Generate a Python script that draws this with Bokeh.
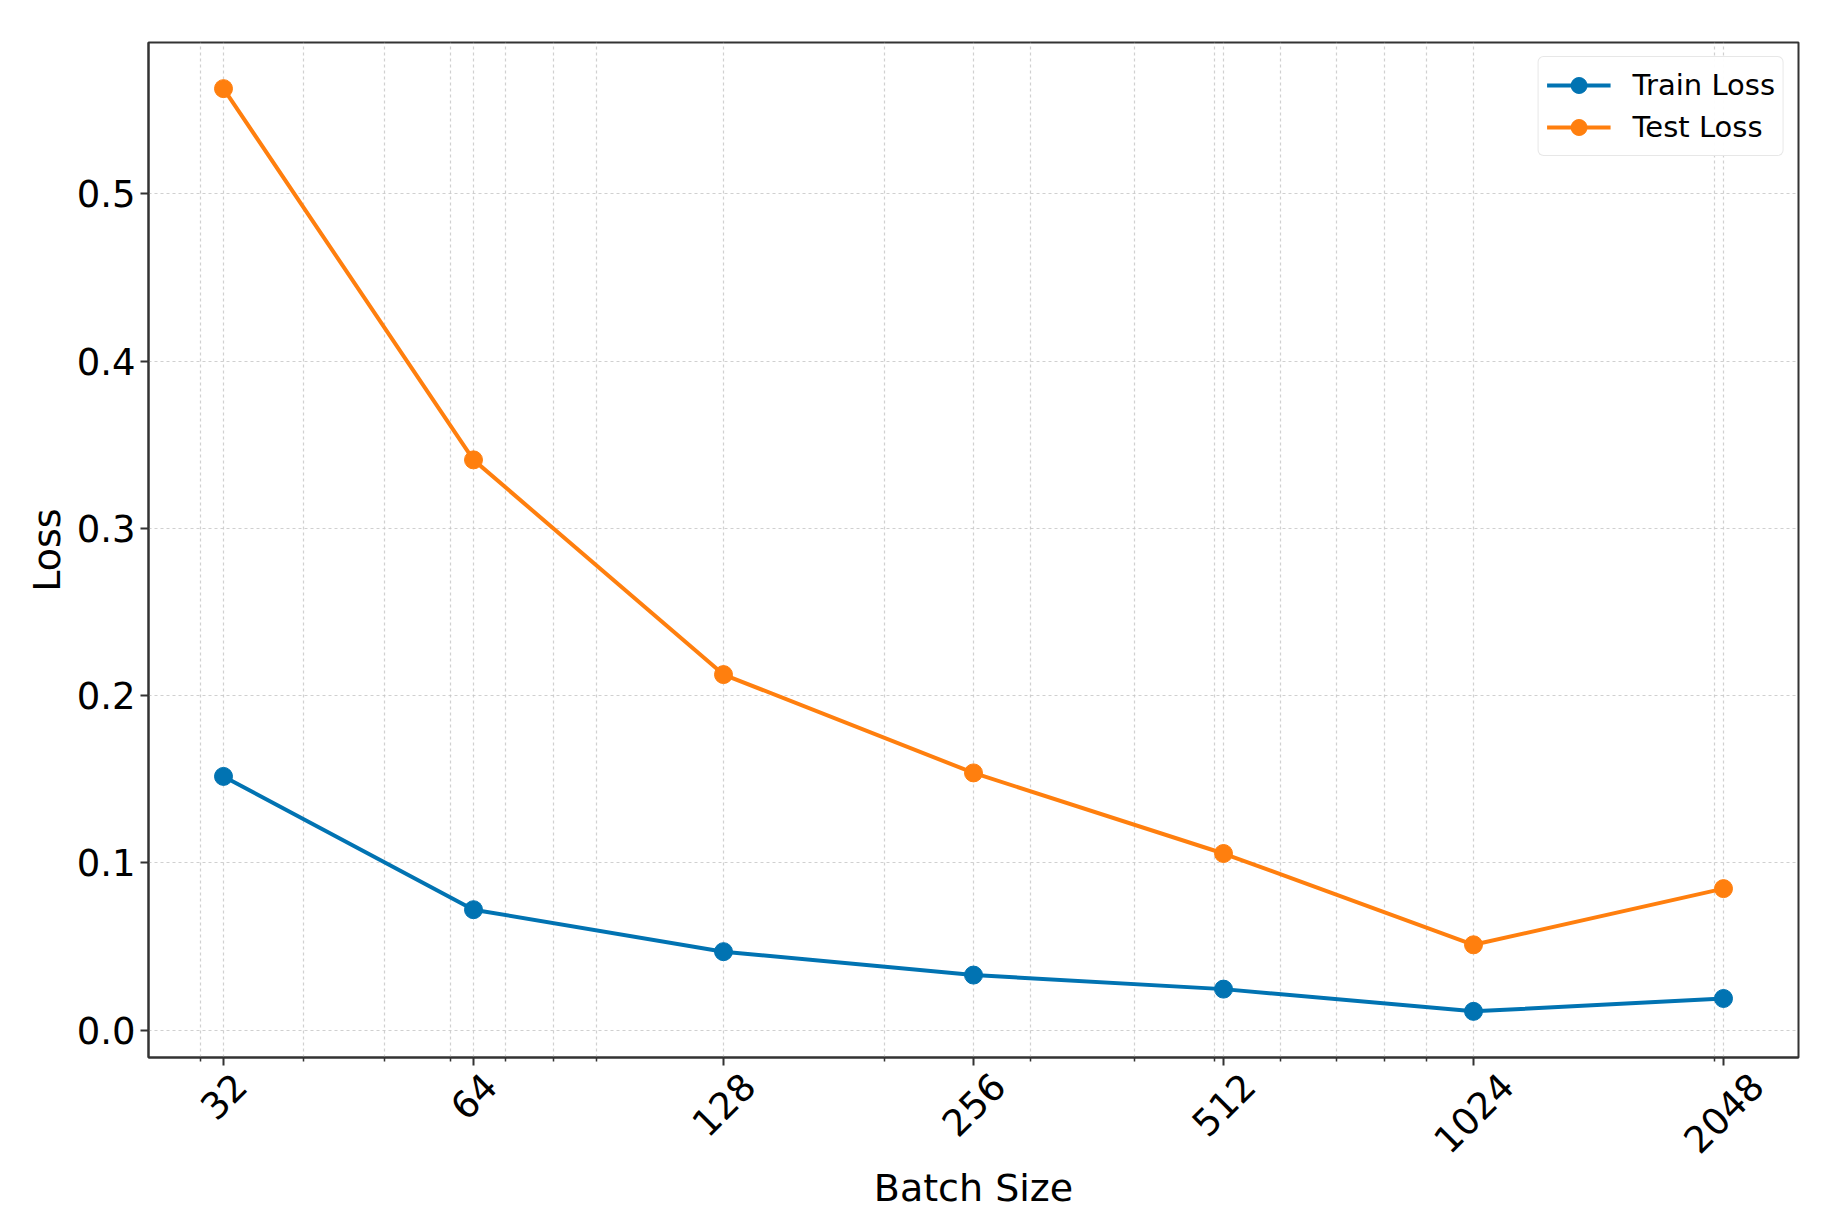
import math
from bokeh.plotting import figure
from bokeh.models import (FixedTicker, PrintfTickFormatter, Range1d, Legend, LegendItem, LogAxis)
from bokeh.embed import file_html
from bokeh.resources import INLINE

batch_sizes = [32, 64, 128, 256, 512, 1024, 2048]
batch_labels = ["32", "64", "128", "256", "512", "1024", "2048"]
train_loss = [0.1517, 0.0720, 0.0469, 0.0329, 0.0245, 0.0112, 0.0189]
test_loss = [0.5630, 0.3410, 0.2126, 0.1538, 0.1056, 0.0510, 0.0846]
x_minor = [30, 40, 50, 60, 70, 80, 90, 200, 300, 400, 500, 600, 700, 800, 900, 2000]
y_ticks = [0.0, 0.1, 0.2, 0.3, 0.4, 0.5]

FONT = "DejaVu Sans"
TICK_PX = 37
BLUE = "#0173b2"
ORANGE = "#ff7f0e"

W, H = 1815, 1215
BL, BT, BR, BB = 148, 42, 17, 158

lx = [math.log2(v) for v in batch_sizes]
pad_x = 0.05 * (max(lx) - min(lx))
ymin, ymax = min(train_loss + test_loss), max(train_loss + test_loss)
pad_y = 0.05 * (ymax - ymin)

p = figure(width=W, height=H, x_axis_type="log",
           x_range=Range1d(2 ** (min(lx) - pad_x), 2 ** (max(lx) + pad_x)),
           y_range=Range1d(ymin - pad_y, ymax + pad_y),
           output_backend="svg", toolbar_location=None,
           min_border_left=BL, min_border_top=BT, min_border_right=BR, min_border_bottom=BB)

# axis carrying the tick marks (labels drawn by the label axis below)
p.xaxis.ticker = FixedTicker(ticks=batch_sizes, minor_ticks=x_minor)
p.xaxis.major_label_overrides = {v: "" for v in batch_sizes}
p.yaxis.ticker = FixedTicker(ticks=y_ticks)
p.yaxis.formatter = PrintfTickFormatter(format="%.1f")

for ax in (p.xaxis[0], p.yaxis[0]):
    ax.major_label_text_font = FONT
    ax.major_label_text_font_size = f"{TICK_PX}px"
    ax.major_label_text_color = "black"
    ax.axis_label_text_font = FONT
    ax.axis_label_text_font_size = "38px"
    ax.axis_label_text_font_style = "normal"
    ax.axis_label_text_color = "black"
    ax.axis_line_color = "#333333"
    ax.axis_line_width = 2
    ax.major_tick_line_color = "#333333"
    ax.major_tick_line_width = 2
    ax.major_tick_out = 8
    ax.major_tick_in = 0
    ax.minor_tick_line_color = "#333333"
    ax.minor_tick_line_width = 1.5
    ax.minor_tick_out = 4
    ax.minor_tick_in = 0

p.yaxis.axis_label = "Loss"
p.yaxis.minor_tick_line_color = None
p.xaxis.major_label_text_font_size = "0px"
p.xaxis.major_label_standoff = 0

# label axis: rotated labels, shifted so each label is centred under its tick
px_per_oct = (W - BL - BR) / ((max(lx) - min(lx)) * 1.1)
shift = [0.354 * 0.636 * TICK_PX * len(s) / px_per_oct for s in batch_labels]
label_pos = [v * 2 ** d for v, d in zip(batch_sizes, shift)]
lab_axis = LogAxis(ticker=FixedTicker(ticks=label_pos, minor_ticks=[]),
                   major_label_overrides={pos: s for pos, s in zip(label_pos, batch_labels)},
                   major_label_orientation=math.pi / 4,
                   major_label_standoff=14,
                   major_label_text_font=FONT, major_label_text_font_size=f"{TICK_PX}px",
                   major_label_text_color="black",
                   axis_line_color=None, major_tick_line_color=None, minor_tick_line_color=None,
                   major_tick_out=0, major_tick_in=0, minor_tick_out=0, minor_tick_in=0,
                   axis_label="Batch Size", axis_label_standoff=-2,
                   axis_label_text_font=FONT, axis_label_text_font_size="38px",
                   axis_label_text_font_style="normal", axis_label_text_color="black")
p.add_layout(lab_axis, "below")

p.xgrid.ticker = FixedTicker(ticks=batch_sizes, minor_ticks=x_minor)
p.ygrid.ticker = FixedTicker(ticks=y_ticks)
for g in (p.xgrid[0], p.ygrid[0]):
    g.grid_line_color = "#c4c4c4"
    g.grid_line_dash = "3 3"
    g.grid_line_width = 1.2
    g.grid_line_alpha = 0.8
p.xgrid.minor_grid_line_color = "#c4c4c4"
p.xgrid.minor_grid_line_dash = "3 3"
p.xgrid.minor_grid_line_width = 1.2
p.xgrid.minor_grid_line_alpha = 0.8

p.outline_line_color = "#333333"
p.outline_line_width = 2
p.background_fill_color = "white"
p.border_fill_color = "white"

l1 = p.line(batch_sizes, train_loss, line_color=BLUE, line_width=4)
c1 = p.scatter(batch_sizes, train_loss, size=18, fill_color=BLUE, line_color=BLUE)
l2 = p.line(batch_sizes, test_loss, line_color=ORANGE, line_width=4)
c2 = p.scatter(batch_sizes, test_loss, size=18, fill_color=ORANGE, line_color=ORANGE)

legend = Legend(items=[LegendItem(label="Train Loss", renderers=[l1, c1]),
                       LegendItem(label="Test Loss", renderers=[l2, c2])],
                location="top_right")
legend.label_text_font = FONT
legend.label_text_font_size = "29px"
legend.label_text_color = "black"
legend.border_line_color = "#d0d0d0"
legend.border_line_width = 1.5
legend.border_radius = 6
legend.margin = 14
legend.padding = 8
legend.spacing = 2
legend.glyph_width = 64
legend.glyph_height = 40
legend.label_standoff = 22
p.add_layout(legend)

open("out.html", "w").write(file_html(p, INLINE))
